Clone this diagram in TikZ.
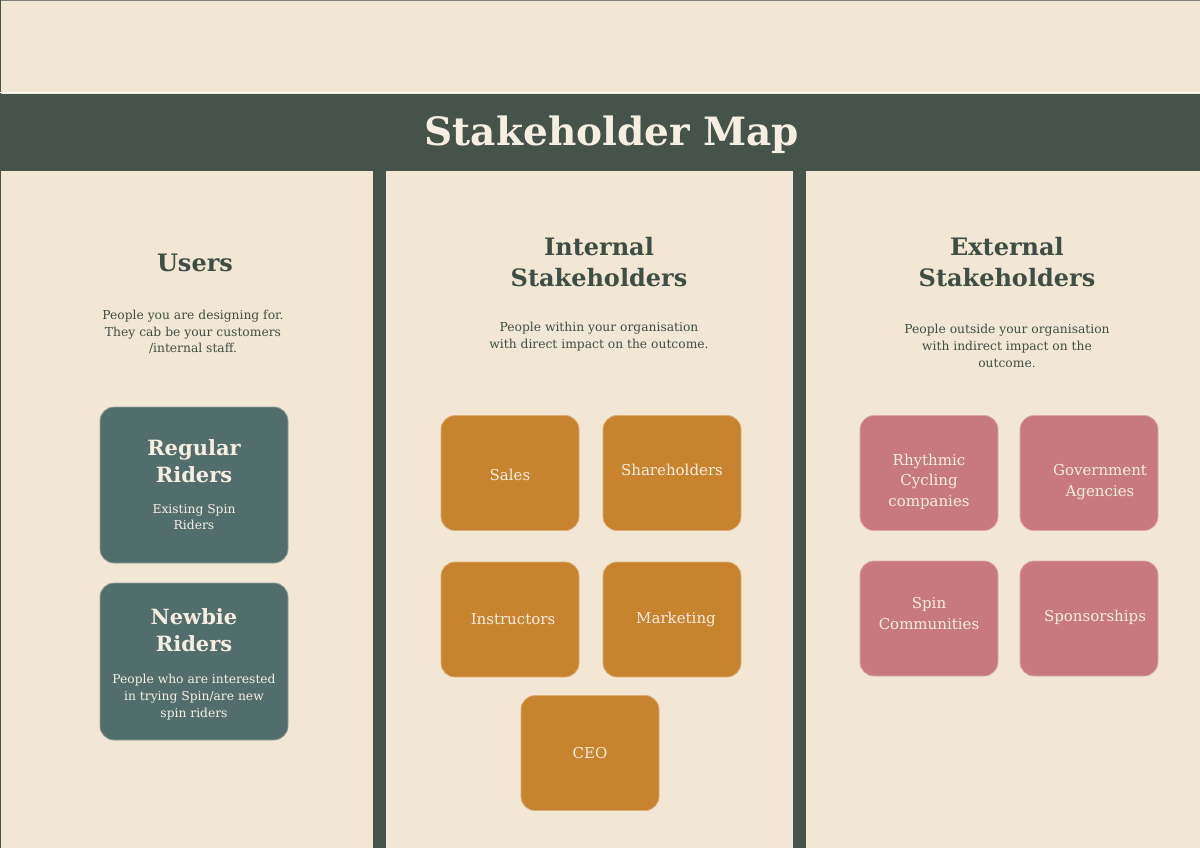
\documentclass[tikz,border=0pt]{standalone}
\usepackage{fontspec}
\setmainfont{DejaVu Serif}
\definecolor{paper}{HTML}{F2E7D5}
\definecolor{band}{HTML}{45534A}
\definecolor{head}{HTML}{3E4E44}
\definecolor{teal}{HTML}{516E6D}
\definecolor{ochre}{HTML}{C8832E}
\definecolor{rose}{HTML}{C7797E}
\definecolor{cream}{HTML}{F7EEE2}
\begin{document}
\begin{tikzpicture}[x=1pt,y=-1pt,
  colhead/.style={text=head,align=center,font=\fontsize{24}{31}\selectfont\bfseries},
  coldesc/.style={text=head,align=center,font=\fontsize{12.3}{16.8}\selectfont},
  card/.style={rounded corners=14pt,draw=cream!40!#1,line width=0.8pt,fill=#1,minimum width=138pt,minimum height=115pt},
  cardtext/.style={text=cream,align=center,font=\fontsize{15}{20.5}\selectfont}]
\fill[paper] (0,0) rectangle (1200,848);
\useasboundingbox (0,0) rectangle (1200,848);
% frame and header band
\draw[gray,line width=1pt] (0,0.5) -- (1200,0.5);
\draw[band,line width=1pt] (0.5,0) -- (0.5,848);
\draw[white,line width=1pt] (0,92.5) -- (1200,92.5);
\fill[band] (0,94) rectangle (1200,171);
\fill[band] (373,171) rectangle (386,848);
\fill[band] (793,171) rectangle (806,848);
\node[text=cream,font=\fontsize{39}{44}\selectfont\bfseries] (title) at (612,135) {Stakeholder Map};
% users
\node[colhead] (users) at (195,263) {Users};
\node[coldesc] (usersdesc) at (193,332) {People you are designing for.\\They cab be your customers\\/internal staff.};
\node[card=teal,minimum width=188pt,minimum height=156pt] (regular) at (194,485) {};
\node[text=cream,align=center,font=\fontsize{21}{27}\selectfont\bfseries] (regulartitle) at (194,461) {Regular\\Riders};
\node[coldesc,text=cream] (regulardesc) at (194,517) {Existing Spin\\Riders};
\node[card=teal,minimum width=188pt,minimum height=157pt] (newbie) at (194,661.5) {};
\node[text=cream,align=center,font=\fontsize{21}{27}\selectfont\bfseries] (newbietitle) at (194,630.5) {Newbie\\Riders};
\node[coldesc,text=cream] (newbiedesc) at (194,697) {People who are interested\\in trying Spin/are new\\spin riders};
% internal
\node[colhead] (internal) at (599,262) {Internal\\Stakeholders};
\node[coldesc] (internaldesc) at (599,337) {People within your organisation\\with direct impact on the outcome.};
\node[card=ochre] (sales) at (510,473) {};
\node[cardtext] (salestext) at ([yshift=-2pt]sales.center) {Sales};
\node[card=ochre] (shareholders) at (672,473) {};
\node[cardtext] (shareholderstext) at ([yshift=3pt]shareholders.center) {Shareholders};
\node[card=ochre] (instructors) at (510,619.5) {};
\node[cardtext] (instructorstext) at ([xshift=3pt]instructors.center) {Instructors};
\node[card=ochre] (marketing) at (672,619.5) {};
\node[cardtext] (marketingtext) at ([xshift=4pt]marketing.center) {Marketing};
\node[card=ochre] (ceo) at (590,753) {};
\node[cardtext] (ceotext) at (ceo.center) {CEO};
% external
\node[colhead] (external) at (1007,262) {External\\Stakeholders};
\node[coldesc] (externaldesc) at (1007,346) {People outside your organisation\\with indirect impact on the\\outcome.};
\node[card=rose] (rhythmic) at (929,473) {};
\node[cardtext] (rhythmictext) at ([yshift=-8.5pt]rhythmic.center) {Rhythmic\\Cycling\\companies};
\node[card=rose] (government) at (1089,473) {};
\node[cardtext] (governmenttext) at ([xshift=11pt,yshift=-9pt]government.center) {Government\\Agencies};
\node[card=rose] (spin) at (929,618.5) {};
\node[cardtext] (spintext) at ([yshift=5pt]spin.center) {Spin\\Communities};
\node[card=rose] (sponsorships) at (1089,618.5) {};
\node[cardtext] (sponsorshipstext) at ([xshift=6pt,yshift=1.5pt]sponsorships.center) {Sponsorships};
\end{tikzpicture}
\end{document}
